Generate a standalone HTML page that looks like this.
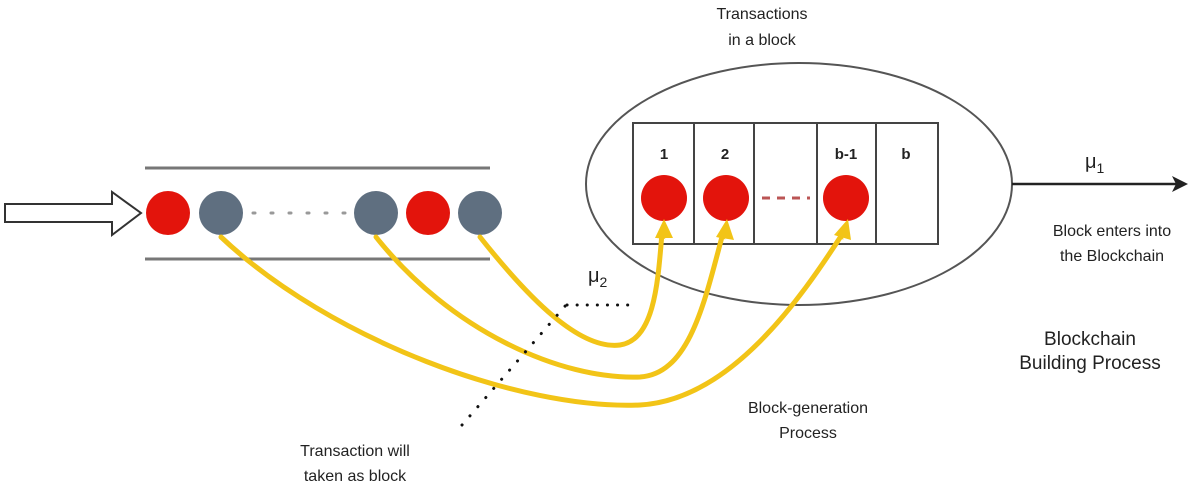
<!DOCTYPE html>
<html><head><meta charset="utf-8"><style>
html,body{margin:0;padding:0;background:#fff;}
svg{display:block;}
text{font-family:"Liberation Sans",Arial,sans-serif;fill:#222;}
</style></head><body>
<svg width="1200" height="487" viewBox="0 0 1200 487" xmlns="http://www.w3.org/2000/svg">
<defs>
<marker id="ya" markerWidth="8" markerHeight="8" refX="6" refY="4" orient="auto" markerUnits="userSpaceOnUse">
<path d="M0,0 L8,4 L0,8 L2,4 Z" fill="#f2c417"/>
</marker>
</defs>
<!-- queue lines -->
<line x1="145" y1="168" x2="490" y2="168" stroke="#777" stroke-width="3"/>
<line x1="145" y1="259" x2="490" y2="259" stroke="#777" stroke-width="3"/>
<!-- input arrow -->
<path d="M5,204 L112,204 L112,192 L141,213 L112,235 L112,222 L5,222 Z" fill="#fff" stroke="#333" stroke-width="2"/>
<!-- circles -->
<circle cx="168" cy="213" r="22" fill="#e3140c"/>
<circle cx="221" cy="213" r="22" fill="#5f6f80"/>
<circle cx="376" cy="213" r="22" fill="#5f6f80"/>
<circle cx="428" cy="213" r="22" fill="#e3140c"/>
<circle cx="480" cy="213" r="22" fill="#5f6f80"/>
<line x1="253" y1="213" x2="345" y2="213" stroke="#999" stroke-width="3" stroke-dasharray="2 16" stroke-linecap="round"/>
<!-- ellipse -->
<ellipse cx="799" cy="184" rx="213" ry="121" fill="none" stroke="#555" stroke-width="2"/>
<!-- block -->
<rect x="633" y="123" width="305" height="121" fill="#fff" stroke="#444" stroke-width="2"/>
<line x1="694" y1="123" x2="694" y2="244" stroke="#444" stroke-width="2"/>
<line x1="754" y1="123" x2="754" y2="244" stroke="#444" stroke-width="2"/>
<line x1="817" y1="123" x2="817" y2="244" stroke="#444" stroke-width="2"/>
<line x1="876" y1="123" x2="876" y2="244" stroke="#444" stroke-width="2"/>
<text x="664" y="159" font-size="15" font-weight="bold" text-anchor="middle">1</text>
<text x="725" y="159" font-size="15" font-weight="bold" text-anchor="middle">2</text>
<text x="846" y="159" font-size="15" font-weight="bold" text-anchor="middle">b-1</text>
<text x="906" y="159" font-size="15" font-weight="bold" text-anchor="middle">b</text>
<circle cx="664" cy="198" r="23" fill="#e3140c"/>
<circle cx="726" cy="198" r="23" fill="#e3140c"/>
<circle cx="846" cy="198" r="23" fill="#e3140c"/>
<line x1="762" y1="198" x2="810" y2="198" stroke="#b55" stroke-width="3" stroke-dasharray="8 7"/>
<!-- output arrow -->
<line x1="1012" y1="184" x2="1178" y2="184" stroke="#222" stroke-width="2.5"/>
<path d="M1188,184 L1172,176 L1176,184 L1172,192 Z" fill="#222"/>
<text x="1085" y="168" font-size="20">μ<tspan font-size="14" dy="5">1</tspan></text>
<!-- yellow curves -->
<g fill="none" stroke="#f2c417" stroke-width="5" stroke-linecap="round">
<path d="M221,237 C330,340 520,410 640,405 C730,400 800,300 843,233" marker-end="url(#ya)"/>
<path d="M376,237 C450,330 560,380 640,377 C690,374 705,300 723,233" marker-end="url(#ya)"/>
<path d="M480,237 C530,300 580,350 620,345 C655,340 658,280 662,233" marker-end="url(#ya)"/>
</g>
<g fill="#f2c417">
<path d="M664,219 L655,238 L673,238 Z"/>
<path d="M727,219 L716,237 L734,240 Z"/>
<path d="M848,219 L834,235 L851,240 Z"/>
</g>
<!-- dotted lines -->
<line x1="462" y1="425" x2="566" y2="305" stroke="#111" stroke-width="3" stroke-dasharray="0.1 12" stroke-linecap="round"/>
<line x1="567" y1="305" x2="630" y2="305" stroke="#111" stroke-width="3" stroke-dasharray="0.1 10" stroke-linecap="round"/>
<text x="588" y="282" font-size="20">μ<tspan font-size="14" dy="5">2</tspan></text>
<!-- labels -->
<g font-size="16" text-anchor="middle">
<text x="762" y="19">Transactions</text>
<text x="762" y="45">in a block</text>
<text x="1112" y="236">Block enters into</text>
<text x="1112" y="261">the Blockchain</text>
<text x="808" y="413">Block-generation</text>
<text x="808" y="438">Process</text>
<text x="355" y="456">Transaction will</text>
<text x="355" y="481">taken as block</text>
</g>
<g font-size="19" text-anchor="middle">
<text x="1090" y="345">Blockchain</text>
<text x="1090" y="369">Building Process</text>
</g>
</svg>
</body></html>
